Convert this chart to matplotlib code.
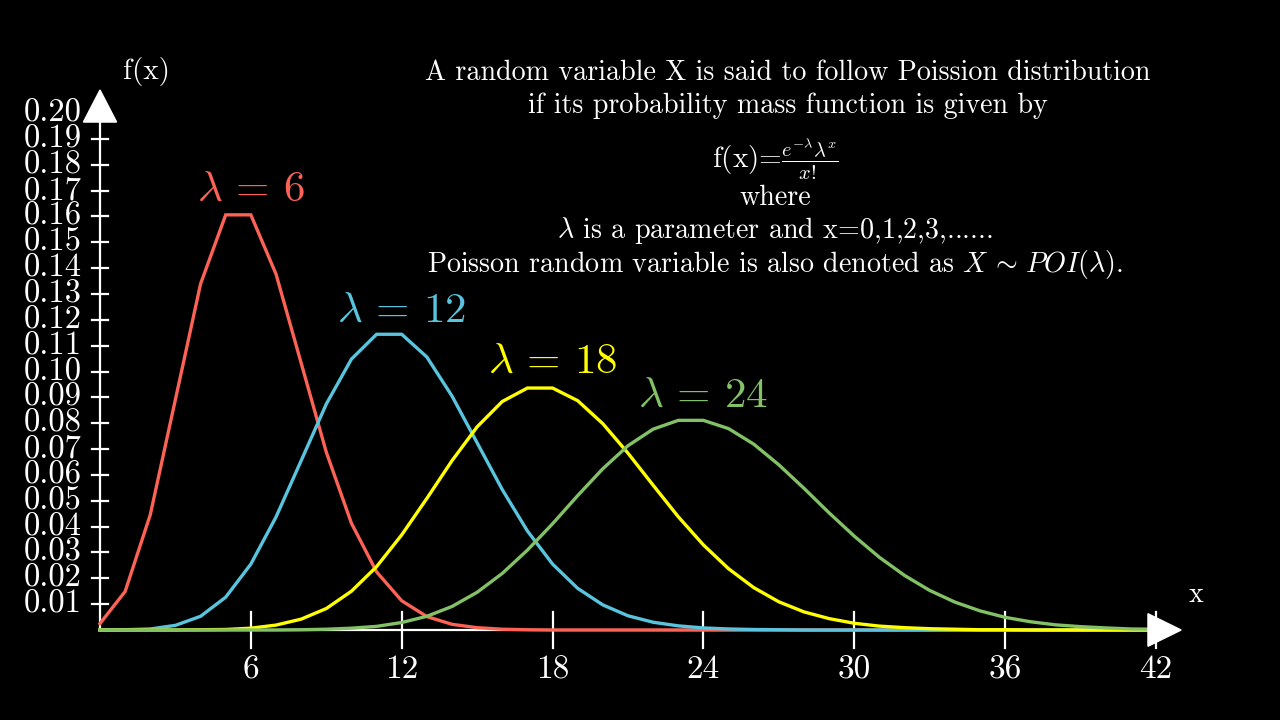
import matplotlib
matplotlib.use("Agg")
import matplotlib.pyplot as plt
from matplotlib.patches import Polygon

plt.rcParams['mathtext.fontset'] = 'cm'
plt.rcParams['font.family'] = ['cmr10', 'DejaVu Serif']
plt.rcParams['axes.unicode_minus'] = False

# values, x = 0..42
x_vals = list(range(43))
lam6 = [0.0025, 0.0149, 0.0446, 0.0892, 0.1339, 0.1606, 0.1606, 0.1377, 0.1033, 0.0688,
        0.0413, 0.0225, 0.0113, 0.0052, 0.0022, 0.0009, 0.0003, 0.0001] + [0.0] * 25
lam12 = [0.0, 0.0001, 0.0004, 0.0018, 0.0053, 0.0127, 0.0255, 0.0437, 0.0655, 0.0874,
         0.1048, 0.1144, 0.1144, 0.1056, 0.0905, 0.0724, 0.0543, 0.0383, 0.0255, 0.0161,
         0.0097, 0.0055, 0.0030, 0.0016, 0.0008, 0.0004, 0.0002, 0.0001] + [0.0] * 15
lam18 = [0.0, 0.0, 0.0, 0.0, 0.0001, 0.0002, 0.0007, 0.0019, 0.0042, 0.0083,
         0.0150, 0.0245, 0.0368, 0.0509, 0.0655, 0.0786, 0.0884, 0.0936, 0.0936, 0.0887,
         0.0798, 0.0684, 0.0560, 0.0438, 0.0329, 0.0237, 0.0164, 0.0109, 0.0070, 0.0044,
         0.0026, 0.0015, 0.0009, 0.0005, 0.0003, 0.0001, 0.0001, 0.0, 0.0, 0.0,
         0.0, 0.0, 0.0]
lam24 = [0.0, 0.0, 0.0, 0.0, 0.0, 0.0, 0.0, 0.0, 0.0001, 0.0003,
         0.0007, 0.0014, 0.0029, 0.0053, 0.0091, 0.0146, 0.0219, 0.0309, 0.0411, 0.0520,
         0.0624, 0.0713, 0.0777, 0.0811, 0.0811, 0.0779, 0.0719, 0.0639, 0.0548, 0.0453,
         0.0363, 0.0281, 0.0211, 0.0153, 0.0108, 0.0074, 0.0049, 0.0032, 0.0020, 0.0013,
         0.0008, 0.0004, 0.0003]

series = [("6", lam6, "#FC6255"), ("12", lam12, "#58C4DD"),
          ("18", lam18, "#FFFF00"), ("24", lam24, "#83C167")]
label_pos = {"6": (6.0, 0.1700), "12": (12.0, 0.1232), "18": (18.0, 0.1035), "24": (24.0, 0.0903)}

y_ticks = [round(0.01 * i, 2) for i in range(1, 21)]
x_ticks = [6, 12, 18, 24, 30, 36, 42]

text_lines = [
    "A random variable X is said to follow Poission distribution",
    "if its probability mass function is given by",
]

fig = plt.figure(figsize=(12.8, 7.2), dpi=100, facecolor="black")
ax = fig.add_axes([0, 0, 1, 1])
ax.set_facecolor("black")
ax.axis("off")
# axes mapped so that x=0 sits at px 100, x=42 at px 1156, y=0 at px 630, y=0.2 at px 113
ax.set_xlim(-100 / 25.143, 1180 / 25.143)
ax.set_ylim(-90 / 2585.0, 630 / 2585.0)

# axes lines
ax.plot([0, 42.0], [0, 0], color="white", lw=1.6, zorder=2)
ax.plot([0, 0], [0, 0.197], color="white", lw=1.6, zorder=2)
ax.add_patch(Polygon([[-0.66, 0.1965], [0.66, 0.1965], [0, 0.2089]], closed=True,
                     color="white", zorder=6))
ax.add_patch(Polygon([[41.68, 0.0063], [41.68, -0.0063], [43.0, 0]], closed=True,
                     color="white", zorder=6))

for t in y_ticks:
    if t < 0.2:
        ax.plot([-0.32, 0.32], [t, t], color="white", lw=1.6, zorder=2)
    ax.text(-0.72, t, f"{t:.2f}", color="white", fontsize=23.5,
            ha="right", va="center")
for t in x_ticks:
    ax.plot([t, t], [-0.0068, 0.0068], color="white", lw=1.6, zorder=2)
    ax.text(t, -0.0097, str(t), color="white", fontsize=24, ha="center", va="top")

ax.text(1.85, 0.2160, "f(x)", color="white", fontsize=21, ha="center", va="center")
ax.text(43.6, 0.0137, "x", color="white", fontsize=20, ha="center", va="center")

for lam, vals, col in series:
    ax.plot(x_vals, vals, color=col, lw=2.4, zorder=3, solid_joinstyle="miter")
    lx, ly = label_pos[lam]
    ax.text(lx, ly, r"$\lambda\,=\,%s$" % lam, color=col, fontsize=31,
            ha="center", va="center")

cx = 27.37
cx2 = 26.85
ax.text(cx, 0.2155, text_lines[0], color="white", fontsize=20.2, ha="center", va="center")
ax.text(cx, 0.2027, text_lines[1], color="white", fontsize=20.2, ha="center", va="center")
ax.text(cx2, 0.1822, r"f(x)=$\frac{e^{-\lambda}\lambda^x}{x!}$", color="white",
        fontsize=21, ha="center", va="center")
ax.text(cx2, 0.1672, "where", color="white", fontsize=20.2, ha="center", va="center")
ax.text(cx2, 0.1545, r"$\lambda$ is a parameter and x=0,1,2,3,......", color="white",
        fontsize=20.2, ha="center", va="center")
ax.text(cx2, 0.1415, r"Poisson random variable is also denoted as $X\,\sim\,POI(\lambda)$.",
        color="white", fontsize=20.2, ha="center", va="center")

fig.savefig("out.png", dpi=100, facecolor="black")
